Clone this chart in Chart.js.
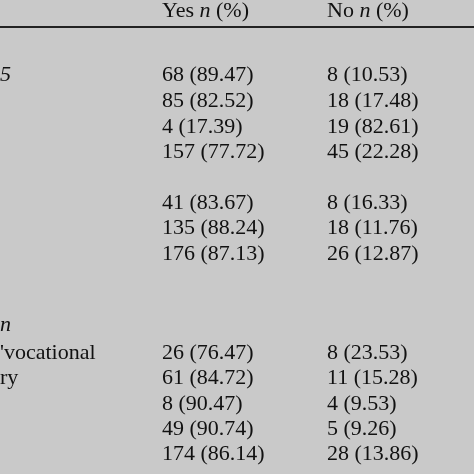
<!DOCTYPE html>
<html>
<head>
<meta charset="utf-8">
<script src="https://cdn.jsdelivr.net/npm/chart.js@4"></script>
<style>
  html, body { margin: 0; padding: 0; background: #c9c9c9; }
  #wrap { width: 474px; height: 474px; }
</style>
</head>
<body>
<div id="wrap"><canvas id="tbl"></canvas></div>
<script>
// table contents
const yesCol = ["68 (89.47)", "85 (82.52)", "4 (17.39)", "157 (77.72)",
  "41 (83.67)", "135 (88.24)", "176 (87.13)",
  "26 (76.47)", "61 (84.72)", "8 (90.47)", "49 (90.74)", "174 (86.14)"];
const noCol = ["8 (10.53)", "18 (17.48)", "19 (82.61)", "45 (22.28)",
  "8 (16.33)", "18 (11.76)", "26 (12.87)",
  "8 (23.53)", "11 (15.28)", "4 (9.53)", "5 (9.26)", "28 (13.86)"];
const rowPos = [75, 101, 127, 152, 203, 228, 254, 353, 378, 404, 429, 454];
const leftLabels = [["5", 75, true], ["n", 325, true], ["'vocational", 353, false], ["ry", 378, false]];
const colX = { yes: 162, no: 327 };

const font = '22px "Liberation Serif", "DejaVu Serif", serif';
const italic = 'italic 22px "Liberation Serif", "DejaVu Serif", serif';

const textPlugin = {
  id: "tableText",
  afterDraw(chart) {
    const { ctx, scales } = chart;
    const x = scales.x, y = scales.y;
    ctx.save();
    ctx.fillStyle = "#111";
    ctx.textBaseline = "middle";
    ctx.textAlign = "left";
    // header
    const hy = y.getPixelForValue(11);
    const header = (px, word) => {
      ctx.font = font;
      ctx.fillText(word, px, hy);
      let w = ctx.measureText(word).width;
      ctx.font = italic;
      ctx.fillText("n", px + w, hy);
      w += ctx.measureText("n ").width;
      ctx.font = font;
      ctx.fillText("(%)", px + w, hy);
    };
    header(x.getPixelForValue(colX.yes), "Yes ");
    header(x.getPixelForValue(colX.no), "No ");
    // rule
    ctx.strokeStyle = "#222";
    ctx.lineWidth = 2;
    ctx.beginPath();
    ctx.moveTo(x.getPixelForValue(0), y.getPixelForValue(27));
    ctx.lineTo(x.getPixelForValue(474), y.getPixelForValue(27));
    ctx.stroke();
    // body cells
    ctx.font = font;
    chart.data.datasets[0].data.forEach((p, i) => {
      ctx.fillText(yesCol[i], x.getPixelForValue(p.x), y.getPixelForValue(p.y));
    });
    chart.data.datasets[1].data.forEach((p, i) => {
      ctx.fillText(noCol[i], x.getPixelForValue(p.x), y.getPixelForValue(p.y));
    });
    leftLabels.forEach(([t, ry, it]) => {
      ctx.font = it ? italic : font;
      ctx.fillText(t, x.getPixelForValue(0), y.getPixelForValue(ry));
    });
    ctx.restore();
  }
};

new Chart(document.getElementById("tbl"), {
  type: "scatter",
  data: {
    datasets: [
      { label: "Yes", data: rowPos.map((r) => ({ x: colX.yes, y: r })), pointRadius: 0 },
      { label: "No", data: rowPos.map((r) => ({ x: colX.no, y: r })), pointRadius: 0 }
    ]
  },
  options: {
    responsive: true,
    maintainAspectRatio: false,
    animation: false,
    layout: { padding: 0 },
    plugins: { legend: { display: false }, tooltip: { enabled: false } },
    scales: {
      x: { type: "linear", min: 0, max: 474, display: false },
      y: { type: "linear", min: 0, max: 474, reverse: true, display: false }
    }
  },
  plugins: [textPlugin]
});
</script>
</body>
</html>
